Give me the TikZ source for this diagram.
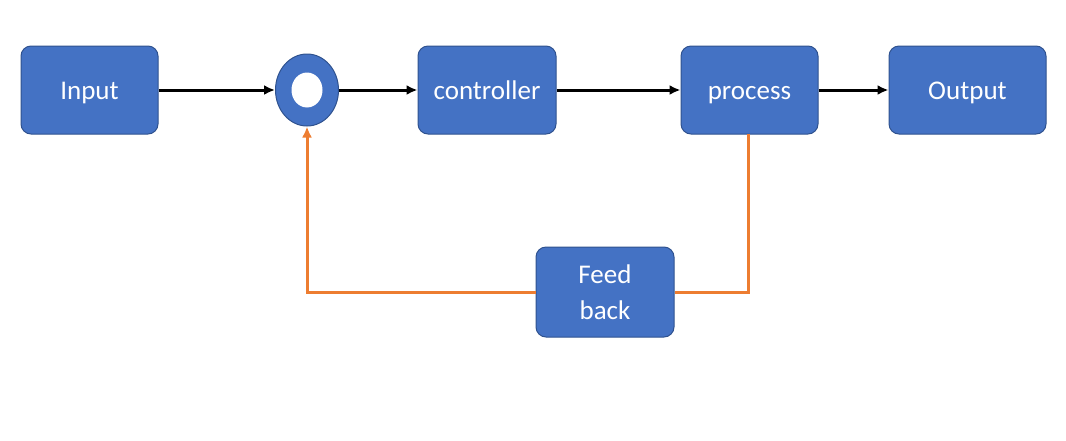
\documentclass[tikz,border=0pt]{standalone}
\usepackage{fontspec}
\setmainfont{Carlito}
\usetikzlibrary{shapes.geometric,arrows.meta}
\definecolor{boxblue}{HTML}{4472C4}
\definecolor{boxedge}{HTML}{2F528F}
\definecolor{fborange}{HTML}{ED7D31}
\tikzset{
  blk/.style={draw=boxedge, line width=1pt, fill=boxblue, rounded corners=10pt,
    text=white, font=\fontsize{27}{36}\selectfont, align=center, inner sep=0pt},
  oneline/.style={text height=21pt, text depth=3pt},
  blackarrow/.style={draw=black, line width=3pt, -{Latex[length=11pt,width=10pt]}},
  fbline/.style={draw=fborange, line width=3pt},
}
\begin{document}
\begin{tikzpicture}[x=1pt,y=-1pt]
\useasboundingbox (0,0) rectangle (1066,440);
\node[blk, oneline, minimum width=137pt, minimum height=88pt] (in) at (89.5,90) {Input};
\node[ellipse, draw=boxedge, line width=1pt, fill=boxblue, minimum width=63pt, minimum height=72pt, inner sep=0pt] (sum) at (307,90) {};
\fill[white] (307,90) ellipse [x radius=15.5pt, y radius=17.5pt];
\node[blk, oneline, minimum width=138pt, minimum height=88pt] (ctrl) at (487,90) {controller};
\node[blk, oneline, minimum width=137pt, minimum height=88pt] (proc) at (749.5,90) {process};
\node[blk, oneline, minimum width=157pt, minimum height=88pt] (out) at (967.5,90) {Output};
\node[blk, minimum width=138pt, minimum height=90pt] (fb) at (605,292) {Feed\\back};
\draw[blackarrow] (in.east) -- (sum.west);
\draw[blackarrow] (sum.east) -- (ctrl.west);
\draw[blackarrow] (ctrl.east) -- (proc.west);
\draw[blackarrow] (proc.east) -- (out.west);
\coordinate (pb) at (748,134);
\draw[fbline] (pb) |- (fb.east);
\draw[fbline, -{Latex[length=11pt,width=10pt]}] (fb.west) -| (sum.south);
\end{tikzpicture}
\end{document}
